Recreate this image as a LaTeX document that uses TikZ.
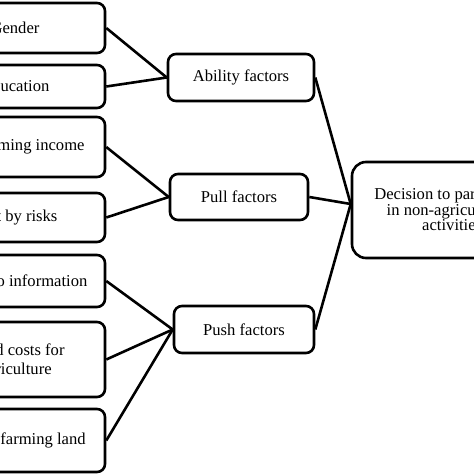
\documentclass[tikz,border=0pt]{standalone}
\usepackage{fontspec}
\setmainfont{Liberation Serif}
\usetikzlibrary{positioning}

\begin{document}
\begin{tikzpicture}[x=1pt, y=-1pt,
        factor/.style={draw, line width=2.6pt, rounded corners=8pt, inner sep=0pt, font=\fontsize{16.6}{19}\selectfont},
        link/.style={line width=2.6pt}]
        % Frame
        \useasboundingbox (0,0) rectangle (474,474);
        \clip (0,0) rectangle (474,474);
        
        % Single factors (cut by the left border)
        \node[factor, minimum width=180, minimum height=50] (gender) at (15,28) {Gender};
        \node[factor, minimum width=160, minimum height=43] (edu) at (25,86.5) {ucation};
        \node[factor, minimum width=128, minimum height=60] (income) at (41,147) {ming income};
        \node[factor, minimum width=156, minimum height=49] (risks) at (27,217.5) {t by risks};
        \node[factor, minimum width=126, minimum height=52] (info) at (42,281) {o information};
        \node[factor, align=left, minimum width=150, minimum height=75] (costs) at (30,359.5) {d costs for\\riculture};
        \node[factor, minimum width=124, minimum height=63] (land) at (43,440.5) {farming land};
        
        % Groups
        \node[factor, minimum width=146, minimum height=47] (ability) at (241,77.5) {Ability factors};
        \node[factor, minimum width=138, minimum height=46] (pull) at (239,197) {Pull factors};
        \node[factor, minimum width=140, minimum height=47] (push) at (244,329.5) {Push factors};
        
        % Decision (cut by the right border)
        \node[factor, rounded corners=14pt, align=right, font=\fontsize{16.6}{14.5}\selectfont, minimum width=146, minimum height=96] (decision) at (425,210) {Decision to par\\in non-agricu\\activitie};
        \coordinate (hub) at ([yshift=6pt]decision.west);
        
        % Links
        \foreach \f in {gender,edu} \draw[link] (\f.east) -- (ability.west);
        \foreach \f in {income,risks} \draw[link] (\f.east) -- (pull.west);
        \foreach \f in {info,costs,land} \draw[link] (\f.east) -- (push.west);
        \foreach \g in {ability,pull,push} \draw[link] (\g.east) -- (hub);
    \end{tikzpicture}
\end{document}
